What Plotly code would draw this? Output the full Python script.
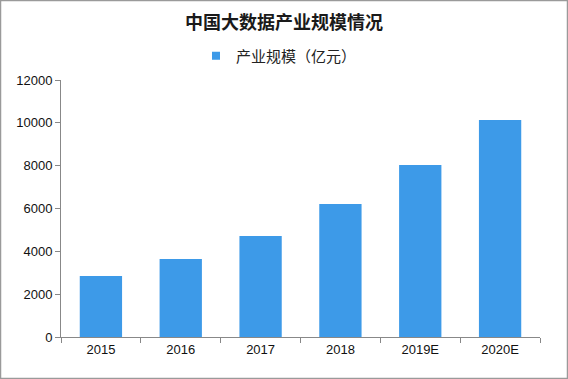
import plotly.graph_objects as go

categories = ["2015", "2016", "2017", "2018", "2019E", "2020E"]
values = [2850, 3640, 4720, 6210, 8030, 10130]
series_name = "产业规模（亿元）"
title_text = "中国大数据产业规模情况"
bar_color = "#3d9ae8"

W, H = 568, 379
ml, mr, mt, mb = 61, 28, 80, 42
pw = W - ml - mr
ph = H - mt - mb

fig = go.Figure()
fig.add_trace(go.Bar(
    x=categories, y=values, name=series_name,
    marker=dict(color=bar_color, line=dict(width=0)),
    width=0.53, showlegend=False,
))
# legend entry with a small square swatch
fig.add_trace(go.Scatter(
    x=[None], y=[None], mode="markers", name=series_name,
    marker=dict(symbol="square", size=8, color=bar_color),
    showlegend=True,
))

fig.update_layout(
    width=W, height=H,
    margin=dict(l=ml, r=mr, t=mt, b=mb, pad=0, autoexpand=False),
    paper_bgcolor="white", plot_bgcolor="white",
    title=dict(text="<b>" + title_text + "</b>", x=0.5, xanchor="center",
               y=1 - 23 / H, yanchor="middle", yref="container",
               font=dict(family="Noto Sans CJK SC", size=18, color="#1a1a1a")),
    showlegend=True,
    legend=dict(orientation="h", x=(196) / W, xanchor="left", xref="container",
                y=1 - 56 / H, yanchor="middle", yref="container",
                font=dict(family="Noto Sans CJK SC", size=15, color="#222"),
                itemwidth=30, bgcolor="rgba(0,0,0,0)"),
    font=dict(family="Liberation Sans", size=13, color="#111"),
    xaxis=dict(showline=True, linecolor="#888", linewidth=1,
               ticks="outside", tickson="boundaries", ticklen=5, tickcolor="#888",
               showgrid=False, tickfont=dict(family="Liberation Sans", size=13, color="#111")),
    yaxis=dict(range=[0, 12000], dtick=2000, showline=True, linecolor="#888", linewidth=1,
               ticks="outside", ticklen=5, tickcolor="#888", showgrid=False,
               zeroline=False, tickformat="d",
               tickfont=dict(family="Liberation Sans", size=13, color="#111")),
    bargap=0.47,
)

# outer gray frame
fig.add_shape(type="rect", xref="paper", yref="paper",
              x0=(-ml + 0.5) / pw, x1=(W - ml - 0.5) / pw,
              y0=(-mb + 0.5) / ph, y1=(H - mb - 0.5) / ph,
              line=dict(color="#9a9a9a", width=1.5), layer="above")

fig.write_html("out.html")
